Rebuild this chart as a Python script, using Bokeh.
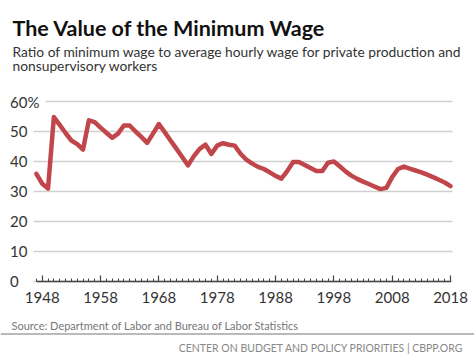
from bokeh.plotting import figure
from bokeh.models import Range1d, FixedTicker, ColumnDataSource
from bokeh.core.properties import value
from bokeh.embed import file_html
from bokeh.resources import INLINE

years = list(range(1947, 2019))
ratio = [35.9, 32.6, 31.0, 54.8, 52.2, 49.5, 47.0, 45.8, 44.0, 53.7,
         53.1, 51.3, 49.6, 47.9, 49.3, 52.0, 52.0, 50.0, 48.2, 46.2,
         49.3, 52.5, 49.8, 47.0, 44.3, 41.5, 38.7, 41.8, 44.2, 45.6,
         42.5, 45.3, 46.1, 45.6, 45.3, 42.6, 40.6, 39.3, 38.2, 37.5,
         36.4, 35.2, 34.3, 36.8, 39.8, 39.8, 38.8, 37.8, 36.8, 36.8,
         39.6, 40.0, 38.4, 36.7, 35.3, 34.2, 33.3, 32.5, 31.6, 30.8,
         31.2, 34.8, 37.5, 38.3, 37.6, 37.0, 36.4, 35.6, 34.8, 33.9,
         33.0, 31.8]
x_ticks = [1948, 1958, 1968, 1978, 1988, 1998, 2008, 2018]
y_ticks = [0, 10, 20, 30, 40, 50, 60]
y_labels = ["0", "10", "20", "30", "40", "50", "60%"]

title = "The Value of the Minimum Wage"
subtitle1 = "Ratio of minimum wage to average hourly wage for private production and"
subtitle2 = "nonsupervisory workers"
source = "Source: Department of Labor and Bureau of Labor Statistics"
credit = "CENTER ON BUDGET AND POLICY PRIORITIES | CBPP.ORG"

FONT = "Lato"
W, H = 474, 358
OFF = 0  # page offset of the figure

# pixel layout helpers (page pixels -> data units)
PX_PER_YEAR = 5.8333
X0_PX, X0_YEAR = 41.7, 1948
Y0_PX, PX_PER_UNIT = 281.0, 3.0

def rx(px):
    return X0_YEAR + (px - X0_PX) / PX_PER_YEAR

def ry(py):
    return (Y0_PX - py) / PX_PER_UNIT

p = figure(width=W, height=H,
           x_range=Range1d(rx(OFF), rx(OFF + W)), y_range=Range1d(ry(OFF + H), ry(OFF)),
           min_border=0, output_backend="svg", toolbar_location=None)
p.outline_line_color = None
p.background_fill_color = "white"
p.border_fill_color = "white"
p.xgrid.visible = False
p.ygrid.visible = False
p.yaxis.visible = False

# gridlines
grid_x0 = [rx(45) if l.endswith("%") else rx(33) for l in y_labels]
p.segment(x0=grid_x0, x1=[rx(452)] * len(y_ticks), y0=y_ticks, y1=y_ticks,
          line_color="#cfcfcf", line_width=1.5)

ax = p.xaxis[0]
ax.fixed_location = 0
ax.ticker = FixedTicker(ticks=x_ticks, minor_ticks=years)
ax.bounds = (1947, 2018)
ax.axis_line_color = "#444444"
ax.axis_line_width = 1.5
ax.major_tick_in = 6
ax.major_tick_out = 0
ax.minor_tick_in = 3
ax.minor_tick_out = 0
ax.major_tick_line_color = "#444444"
ax.major_tick_line_width = 1.2
ax.minor_tick_line_color = "#444444"
ax.minor_tick_line_width = 1
ax.major_label_standoff = 10
ax.major_label_text_font = FONT
ax.major_label_text_font_size = "15px"
ax.major_label_text_color = "#333333"

src = ColumnDataSource(dict(year=years, ratio=ratio))
p.line("year", "ratio", source=src, line_color="#c1464b", line_width=4.5,
       line_join="round", line_cap="round")

# y tick labels
p.text(x=[rx(9.5)] * len(y_ticks), y=y_ticks, text=y_labels,
       text_font=value(FONT), text_font_size="15px", text_color="#333333",
       text_align="left", text_baseline="middle")

def lab(px, py, text, size, color, weight="normal", align="left"):
    p.text(x=[rx(px)], y=[ry(py)], text=[text], text_font=value(FONT),
           text_font_size=size, text_color=color, text_font_style=weight,
           text_align=align, text_baseline="alphabetic")

lab(12, 27, title, "21.5px", "#111111", "bold")
lab(12, 50.5, subtitle1, "13.8px", "#333333")
lab(12, 65, subtitle2, "13.8px", "#333333")
lab(11, 325, source, "11px", "#777777")
lab(463, 347, credit, "10.5px", "#888888", align="right")

# footer rule
p.segment(x0=[rx(OFF)], x1=[rx(OFF + W)], y0=[ry(333.5)], y1=[ry(333.5)],
          line_color="#777777", line_width=1.2)

open("out.html", "w").write(file_html(p, INLINE))
